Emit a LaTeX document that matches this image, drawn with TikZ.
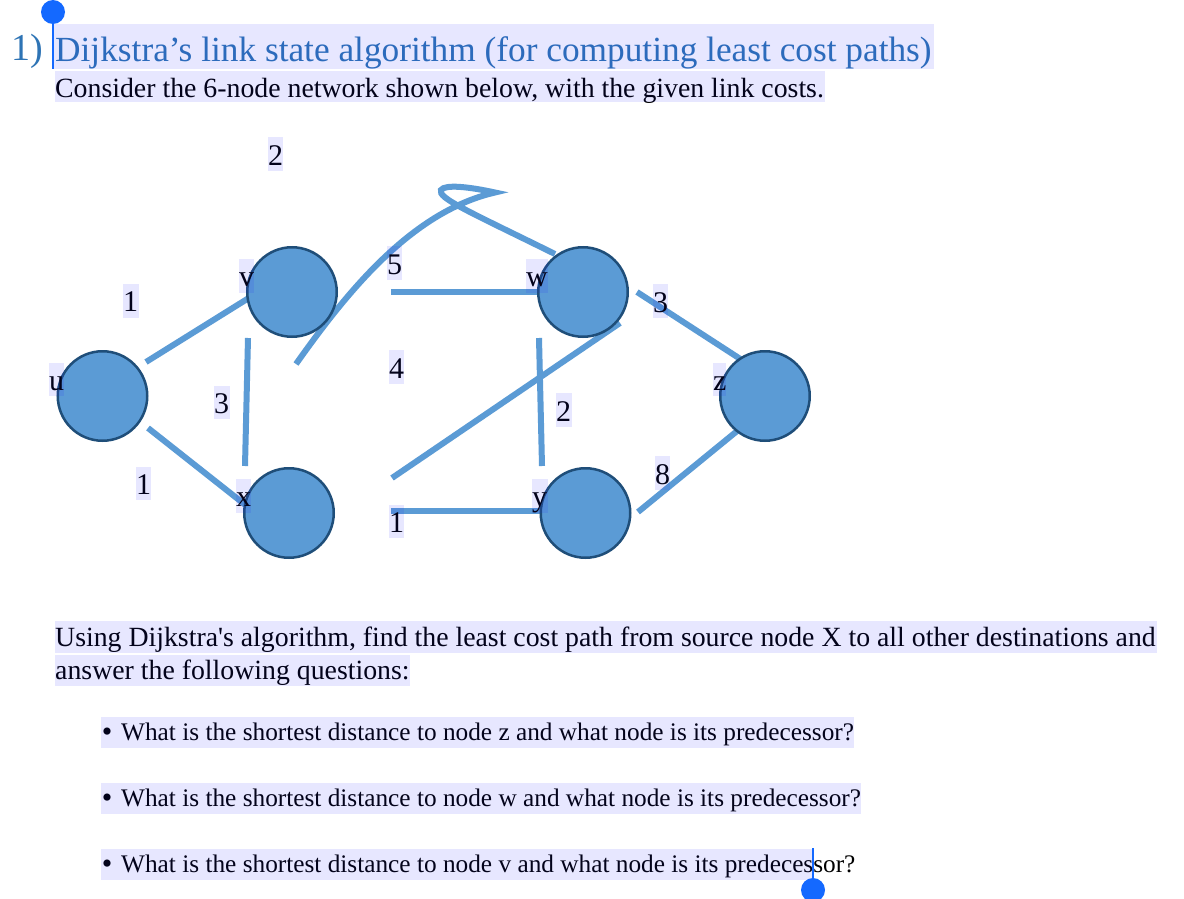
\documentclass[tikz,border=0pt]{standalone}
\usepackage{fontspec}
\setmainfont{Liberation Serif}
\newfontfamily\plainserif{Liberation Serif}
\definecolor{nodefill}{HTML}{5B9BD5}
\definecolor{nodeline}{HTML}{1F4E79}
\definecolor{linkblue}{HTML}{5B9BD5}
\definecolor{titleblue}{HTML}{2E74B5}
\definecolor{caretblue}{HTML}{1469FF}
\definecolor{hlblue}{HTML}{2020FF}
\begin{document}
\begin{tikzpicture}[x=1pt,y=-1pt,
  netnode/.style={circle,draw=nodeline,fill=nodefill,line width=2.5pt,minimum size=89.5pt,inner sep=0pt},
  link/.style={draw=linkblue,line width=6pt},
  hl/.style={fill=hlblue,fill opacity=0.105},
  lbl/.style={anchor=base west,inner sep=0pt,font=\fontsize{30}{30}\selectfont,text=black},
  body/.style={anchor=base west,inner sep=0pt,font=\fontsize{27.8}{27.8}\selectfont,text=black},
  bull/.style={anchor=base west,inner sep=0pt,font=\fontsize{25.3}{25.3}\selectfont,text=black},
  dotm/.style={anchor=base west,inner sep=0pt,font=\fontsize{30}{30}\selectfont,text=black},
  ttl/.style={anchor=base west,inner sep=0pt,font=\fontsize{35.3}{35.3}\selectfont,text=titleblue},
  num/.style={anchor=base west,inner sep=0pt,font=\fontsize{38}{38}\selectfont,text=titleblue},
  caret/.style={draw=caretblue,line width=2pt},
  knob/.style={circle,fill=caretblue,minimum size=24pt,inner sep=0pt}]
\useasboundingbox (0,0) rectangle (1184,899);
\fill[white] (0,0) rectangle (1184,899);
% link ends
\coordinate (a1) at (146,362); \coordinate (a2) at (252,296);
\coordinate (b1) at (148,428); \coordinate (b2) at (248,507);
\coordinate (c1) at (248,338); \coordinate (c2) at (245,466);
\coordinate (d1) at (296,364); \coordinate (d2) at (555,254);
\coordinate (e1) at (391,292); \coordinate (e2) at (547,292);
\coordinate (f1) at (539,338); \coordinate (f2) at (542,466);
\coordinate (g1) at (392,478); \coordinate (g2) at (620,323);
\coordinate (h1) at (391,511); \coordinate (h2) at (548,511);
\coordinate (i1) at (637,292); \coordinate (i2) at (745,362);
\coordinate (j1) at (638,512); \coordinate (j2) at (742,427);
\coordinate (tip) at (495,192.5);
\draw[link] (a1)--(a2);
\draw[link] (b1)--(b2);
\draw[link] (c1)--(c2);
\draw[link,miter limit=30,line join=miter] (d1) .. controls (345,295) and (410,212) .. (tip)
  .. controls (470,187) and (445,184) .. (441,190)
  .. controls (437,198) and (470,212) .. (d2);
\draw[link] (e1)--(e2);
\draw[link] (f1)--(f2);
\draw[link] (g1)--(g2);
\draw[link] (h1)--(h2);
\draw[link] (i1)--(i2);
\draw[link] (j1)--(j2);
% nodes
\node[netnode] (nu) at (102.5,396) {};
\node[netnode] (nv) at (292,292) {};
\node[netnode] (nw) at (583,292) {};
\node[netnode] (nx) at (289,513) {};
\node[netnode] (ny) at (585.5,513) {};
\node[netnode] (nz) at (765,396) {};
% text
\node[num] (one) at (11,61) {1)};
\node[ttl] (title) at (55,61.5) {Dijkstra’s link state algorithm (for computing least cost paths)};
\node[body] (cons) at (55,97) {Consider the 6-node network shown below, with the given link costs.};
\node[lbl] (l2a) at (268,165) {2};
\node[lbl] (l1a) at (123,311) {1};
\node[lbl] (lv) at (239,286) {v};
\node[lbl] (lu) at (49,390) {u};
\node[lbl] (l3a) at (214,413) {3};
\node[lbl] (l1b) at (136,494) {1};
\node[lbl] (lx) at (236,506) {x};
\node[lbl] (l5) at (387,274) {5};
\node[lbl] (lw) at (526,286) {w};
\node[lbl] (l3b) at (653,312) {3};
\node[lbl] (l4) at (389,378) {4};
\node[lbl] (l2b) at (556,421) {2};
\node[lbl] (l8) at (655,484) {8};
\node[lbl] (l1c) at (389,532) {1};
\node[lbl] (ly) at (532,506) {y};
\node[lbl] (lz) at (713,390) {z};
\node[body] (us1) at (55,646) {Using Dijkstra{\plainserif '}s algorithm, find the least cost path from source node X to all other destinations and};
\node[body] (us2) at (55,679) {answer the following questions:};
\node[dotm] (b1t) at (101.7,741) {•};
\node[bull] (b1x) at (121,740) {What is the shortest distance to node z and what node is its predecessor?};
\node[dotm] (b2t) at (101.7,807) {•};
\node[bull] (b2x) at (121,806) {What is the shortest distance to node w and what node is its predecessor?};
\node[dotm] (b3t) at (101.7,873) {•};
\node[bull] (b3x) at (121,872) {What is the shortest distance to node v and what node is its predecessor?};
% highlights
\fill[hl] (54,24) rectangle (934,69);
\fill[hl] (55,71) rectangle (825,102);
\fill[hl] (268,137) rectangle (283,171);
\fill[hl] (123,284) rectangle (139,318);
\fill[hl] (239,259) rectangle (254,293);
\fill[hl] (49,363) rectangle (64,396);
\fill[hl] (214,386) rectangle (230,419);
\fill[hl] (136,467) rectangle (151,500);
\fill[hl] (236,479) rectangle (251,513);
\fill[hl] (387,246) rectangle (402,280);
\fill[hl] (526,259) rectangle (548,293);
\fill[hl] (653,284) rectangle (668,318);
\fill[hl] (389,350) rectangle (404,384);
\fill[hl] (556,393) rectangle (572,427);
\fill[hl] (655,456) rectangle (670,490);
\fill[hl] (389,505) rectangle (404,538);
\fill[hl] (532,479) rectangle (548,513);
\fill[hl] (713,363) rectangle (726,396);
\fill[hl] (55,621) rectangle (1157,653);
\fill[hl] (55,655) rectangle (410,686);
\fill[hl] (101,717) rectangle (854,748);
\fill[hl] (101,783) rectangle (861,814);
\fill[hl] (101,849) rectangle (813,880);
% carets
\node[knob] (k1) at (53,12) {};
\node[knob] (k2) at (813,890) {};
\coordinate (k1b) at (53,69);
\coordinate (k2t) at (813,848);
\draw[caret] (k1) -- (k1b);
\draw[caret] (k2) -- (k2t);
\end{tikzpicture}
\end{document}
